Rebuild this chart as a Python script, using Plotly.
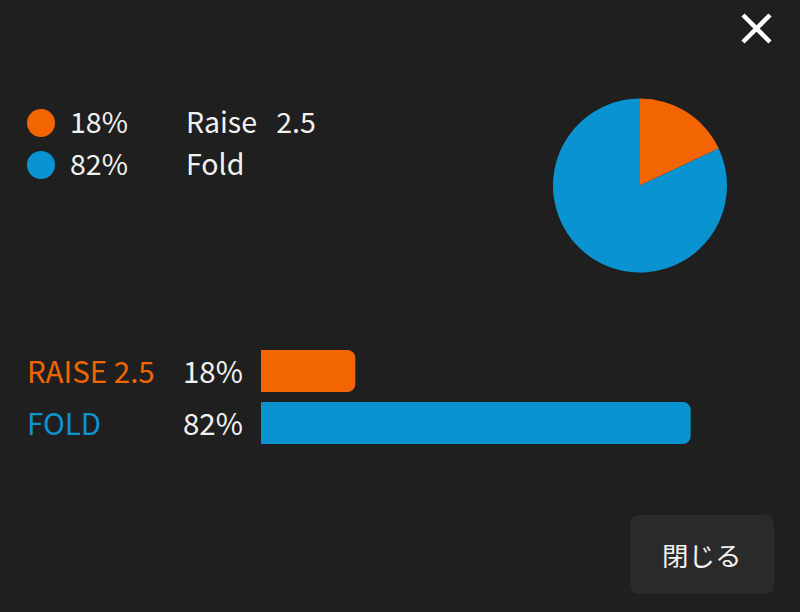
import re
import plotly.graph_objects as go

# ---- data ----
actions = ["Raise 2.5", "Fold"]
action_labels = ["RAISE 2.5", "FOLD"]
legend_names = ["Raise\u00a0\u00a0\u00a02.5", "Fold"]
frequencies = [18, 82]
pct_labels = ["18%", "82%"]
colors = ["#F26500", "#0A93D1"]
button_text = "閉じる"

W, H = 800, 612
BG = "#1F1F1F"
FONT = "Noto Sans CJK JP"


def px(x):
    return x / W


def py(y):
    return 1 - y / H


fig = go.Figure()

# pie
fig.add_trace(go.Pie(
    labels=actions,
    values=frequencies,
    marker=dict(colors=colors, line=dict(width=0)),
    sort=False,
    direction="clockwise",
    rotation=0,
    textinfo="none",
    hoverinfo="label+percent",
    showlegend=False,
    domain=dict(x=[px(553), px(727)], y=[py(273), py(98)]),
))

# bars
fig.add_trace(go.Bar(
    x=frequencies,
    y=actions,
    orientation="h",
    marker=dict(color=colors, cornerradius=8, line=dict(width=0)),
    showlegend=False,
    hoverinfo="x+y",
))

fig.update_layout(
    width=W, height=H,
    margin=dict(l=0, r=0, t=0, b=0),
    paper_bgcolor=BG, plot_bgcolor=BG,
    bargap=0.19,
    xaxis=dict(domain=[px(261), px(785)], range=[0, 100], visible=False, fixedrange=True),
    yaxis=dict(domain=[py(449), py(345)], range=[1.5, -0.5], visible=False,
               type="category", categoryorder="array", categoryarray=actions, fixedrange=True),
    font=dict(family=FONT, color="#F2F2F2"),
)

annotations = []
shapes = []

# legend (top-left)
legend_rows = [123, 165]
for i, yc in enumerate(legend_rows):
    shapes.append(dict(type="circle", xref="paper", yref="paper",
                       x0=px(27), x1=px(55), y0=py(yc + 14), y1=py(yc - 14),
                       fillcolor=colors[i], line=dict(width=0)))
    annotations.append(dict(text=pct_labels[i], x=px(68), y=py(yc - 2), xref="paper", yref="paper",
                            xanchor="left", yanchor="middle", showarrow=False,
                            font=dict(size=28.5, color="#F2F2F2", family=FONT)))
    annotations.append(dict(text=legend_names[i], x=px(184), y=py(yc - 2), xref="paper", yref="paper",
                            xanchor="left", yanchor="middle", showarrow=False,
                            font=dict(size=28.5, color="#F2F2F2", family=FONT)))

# bar labels
bar_rows = [372, 424]
for i, yc in enumerate(bar_rows):
    annotations.append(dict(text=action_labels[i], x=px(25), y=py(yc - 2), xref="paper", yref="paper",
                            xanchor="left", yanchor="middle", showarrow=False,
                            font=dict(size=29.5, color=colors[i], family=FONT)))
    annotations.append(dict(text=pct_labels[i], x=px(245), y=py(yc - 2), xref="paper", yref="paper",
                            xanchor="right", yanchor="middle", showarrow=False,
                            font=dict(size=29.5, color="#F2F2F2", family=FONT)))

# close button (X)
shapes.append(dict(type="line", xref="paper", yref="paper",
                   x0=px(743), y0=py(15), x1=px(770), y1=py(42),
                   line=dict(color="#FFFFFF", width=4.5)))
shapes.append(dict(type="line", xref="paper", yref="paper",
                   x0=px(743), y0=py(42), x1=px(770), y1=py(15),
                   line=dict(color="#FFFFFF", width=4.5)))

# bottom button
bx0, bx1, by0, by1, r = 630, 774, 515, 594, 9
path = (f"M {bx0 + r},{by0} L {bx1 - r},{by0} Q {bx1},{by0} {bx1},{by0 + r} "
        f"L {bx1},{by1 - r} Q {bx1},{by1} {bx1 - r},{by1} L {bx0 + r},{by1} "
        f"Q {bx0},{by1} {bx0},{by1 - r} L {bx0},{by0 + r} Q {bx0},{by0} {bx0 + r},{by0} Z")


def conv(m):
    xv, yv = float(m.group(1)), float(m.group(2))
    return f"{px(xv):.5f},{py(yv):.5f}"


path_paper = re.sub(r"([\d.]+),([\d.]+)", conv, path)
shapes.append(dict(type="path", xref="paper", yref="paper", path=path_paper,
                   fillcolor="#2A2A2A", line=dict(width=0), layer="below"))
annotations.append(dict(text=button_text, x=px(702), y=py(554), xref="paper", yref="paper",
                        xanchor="center", yanchor="middle", showarrow=False,
                        font=dict(size=26.5, color="#F2F2F2", family=FONT)))

fig.update_layout(shapes=shapes, annotations=annotations)

fig.write_html(
    "out.html",
    config=dict(displayModeBar=False),
    post_script="document.body.style.margin='0';document.body.style.background='#1F1F1F';",
)
